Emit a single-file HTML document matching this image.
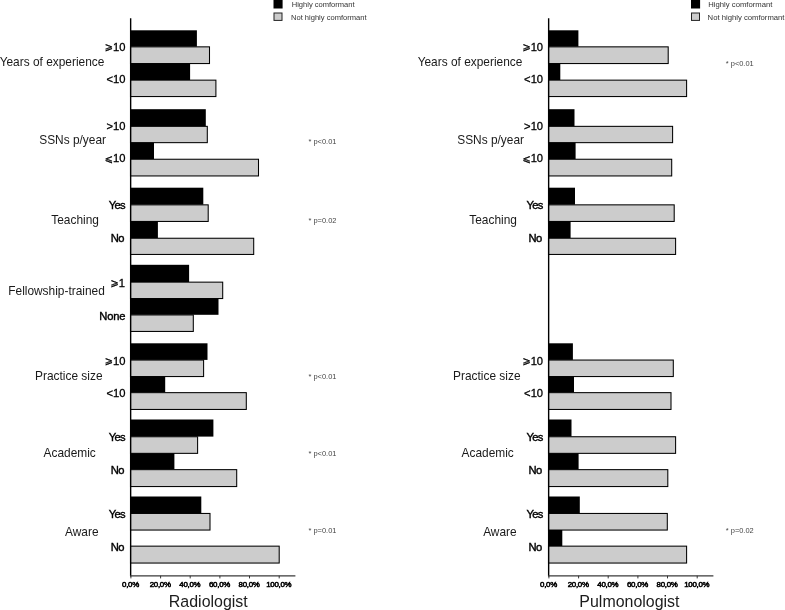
<!DOCTYPE html>
<html><head><meta charset="utf-8"><title>Chart</title>
<style>
html,body{margin:0;padding:0;background:#fff;overflow:hidden}
svg{display:block}
text{font-family:"Liberation Sans","DejaVu Sans",sans-serif;fill:#000}
.tk{font-size:7.9px;stroke:#000;stroke-width:0.55px;letter-spacing:-0.28px}
.cat{font-size:11.9px;fill:#1a1a1a}
.sub{font-size:11.2px;stroke:#000;stroke-width:0.3px}
.subw{letter-spacing:-0.55px;stroke-width:0.4px}
.yes{letter-spacing:-0.75px}
.none{letter-spacing:-0.15px}
.ge{font-size:9.8px;stroke-width:0.3px}
.lg{font-size:7.55px;fill:#333}
.lg2{font-size:7.7px}
.pv{font-size:7.45px;fill:#444}
.ttl{font-size:15.95px;fill:#1c1c1c}
</style></head>
<body>
<svg width="785" height="610" viewBox="0 0 785 610">
<rect x="0" y="0" width="785" height="610" fill="#fff"/>
<rect x="130.6" y="30.3" width="66.3" height="16.4" fill="#000"/>
<rect x="130.5" y="46.85" width="79.0" height="16.70" fill="#ccc" stroke="#000" stroke-width="1.05"/>
<rect x="130.6" y="63.5" width="59.5" height="16.5" fill="#000"/>
<rect x="130.5" y="80.15" width="85.4" height="16.40" fill="#ccc" stroke="#000" stroke-width="1.05"/>
<rect x="130.6" y="109.2" width="75.2" height="17.0" fill="#000"/>
<rect x="130.5" y="126.35" width="76.8" height="16.30" fill="#ccc" stroke="#000" stroke-width="1.05"/>
<rect x="130.6" y="142.6" width="23.4" height="16.5" fill="#000"/>
<rect x="130.5" y="159.25" width="128.0" height="16.70" fill="#ccc" stroke="#000" stroke-width="1.05"/>
<rect x="130.6" y="187.7" width="72.7" height="17.0" fill="#000"/>
<rect x="130.5" y="204.85" width="77.7" height="16.60" fill="#ccc" stroke="#000" stroke-width="1.05"/>
<rect x="130.6" y="221.4" width="27.3" height="16.7" fill="#000"/>
<rect x="130.5" y="238.25" width="123.2" height="16.20" fill="#ccc" stroke="#000" stroke-width="1.05"/>
<rect x="130.6" y="264.8" width="58.5" height="17.2" fill="#000"/>
<rect x="130.5" y="282.15" width="92.2" height="16.40" fill="#ccc" stroke="#000" stroke-width="1.05"/>
<rect x="130.6" y="298.5" width="87.9" height="16.3" fill="#000"/>
<rect x="130.5" y="314.95" width="62.8" height="16.50" fill="#ccc" stroke="#000" stroke-width="1.05"/>
<rect x="130.6" y="343.3" width="76.9" height="16.6" fill="#000"/>
<rect x="130.5" y="360.05" width="73.1" height="16.50" fill="#ccc" stroke="#000" stroke-width="1.05"/>
<rect x="130.6" y="376.5" width="34.6" height="16.0" fill="#000"/>
<rect x="130.5" y="392.65" width="115.8" height="16.80" fill="#ccc" stroke="#000" stroke-width="1.05"/>
<rect x="130.6" y="419.5" width="82.8" height="17.1" fill="#000"/>
<rect x="130.5" y="436.75" width="67.1" height="16.60" fill="#ccc" stroke="#000" stroke-width="1.05"/>
<rect x="130.6" y="453.3" width="43.8" height="16.2" fill="#000"/>
<rect x="130.5" y="469.65" width="106.2" height="16.90" fill="#ccc" stroke="#000" stroke-width="1.05"/>
<rect x="130.6" y="496.5" width="70.7" height="16.8" fill="#000"/>
<rect x="130.5" y="513.45" width="79.5" height="16.60" fill="#ccc" stroke="#000" stroke-width="1.05"/>
<rect x="130.5" y="546.15" width="148.7" height="16.90" fill="#ccc" stroke="#000" stroke-width="1.05"/>
<path d="M130.65 18.2 V576.3" fill="none" stroke="#000" stroke-width="1.4"/>
<path d="M130.0 575.8 H295.4" fill="none" stroke="#3a3a3a" stroke-width="1.3"/>
<path d="M130.9 575.8 v2.6" stroke="#222" stroke-width="0.9"/>
<text x="130.5" y="586.7" text-anchor="middle" class="tk">0,0%</text>
<path d="M160.6 575.8 v2.6" stroke="#222" stroke-width="0.9"/>
<text x="160.2" y="586.7" text-anchor="middle" class="tk">20,0%</text>
<path d="M190.2 575.8 v2.6" stroke="#222" stroke-width="0.9"/>
<text x="189.8" y="586.7" text-anchor="middle" class="tk">40,0%</text>
<path d="M219.9 575.8 v2.6" stroke="#222" stroke-width="0.9"/>
<text x="219.5" y="586.7" text-anchor="middle" class="tk">60,0%</text>
<path d="M249.5 575.8 v2.6" stroke="#222" stroke-width="0.9"/>
<text x="249.1" y="586.7" text-anchor="middle" class="tk">80,0%</text>
<path d="M279.2 575.8 v2.6" stroke="#222" stroke-width="0.9"/>
<text x="278.8" y="586.7" text-anchor="middle" class="tk">100,0%</text>
<rect x="548.6" y="30.3" width="29.8" height="16.4" fill="#000"/>
<rect x="548.5" y="46.85" width="119.7" height="16.70" fill="#ccc" stroke="#000" stroke-width="1.05"/>
<rect x="548.6" y="63.5" width="11.7" height="16.5" fill="#000"/>
<rect x="548.5" y="80.15" width="138.1" height="16.40" fill="#ccc" stroke="#000" stroke-width="1.05"/>
<rect x="548.6" y="109.2" width="25.9" height="17.0" fill="#000"/>
<rect x="548.5" y="126.35" width="124.1" height="16.30" fill="#ccc" stroke="#000" stroke-width="1.05"/>
<rect x="548.6" y="142.6" width="27.0" height="16.5" fill="#000"/>
<rect x="548.5" y="159.25" width="123.2" height="16.70" fill="#ccc" stroke="#000" stroke-width="1.05"/>
<rect x="548.6" y="187.7" width="26.4" height="17.0" fill="#000"/>
<rect x="548.5" y="204.85" width="125.7" height="16.60" fill="#ccc" stroke="#000" stroke-width="1.05"/>
<rect x="548.6" y="221.4" width="22.0" height="16.7" fill="#000"/>
<rect x="548.5" y="238.25" width="127.1" height="16.20" fill="#ccc" stroke="#000" stroke-width="1.05"/>
<rect x="548.6" y="343.3" width="24.3" height="16.6" fill="#000"/>
<rect x="548.5" y="360.05" width="124.8" height="16.50" fill="#ccc" stroke="#000" stroke-width="1.05"/>
<rect x="548.6" y="376.5" width="25.4" height="16.0" fill="#000"/>
<rect x="548.5" y="392.65" width="122.5" height="16.80" fill="#ccc" stroke="#000" stroke-width="1.05"/>
<rect x="548.6" y="419.5" width="22.9" height="17.1" fill="#000"/>
<rect x="548.5" y="436.75" width="127.1" height="16.60" fill="#ccc" stroke="#000" stroke-width="1.05"/>
<rect x="548.6" y="453.3" width="30.0" height="16.2" fill="#000"/>
<rect x="548.5" y="469.65" width="119.3" height="16.90" fill="#ccc" stroke="#000" stroke-width="1.05"/>
<rect x="548.6" y="496.5" width="31.2" height="16.8" fill="#000"/>
<rect x="548.5" y="513.45" width="118.8" height="16.60" fill="#ccc" stroke="#000" stroke-width="1.05"/>
<rect x="548.6" y="530.0" width="13.7" height="16.0" fill="#000"/>
<rect x="548.5" y="546.15" width="138.1" height="16.90" fill="#ccc" stroke="#000" stroke-width="1.05"/>
<path d="M548.65 18.2 V576.3" fill="none" stroke="#000" stroke-width="1.4"/>
<path d="M548.0 575.8 H713.4" fill="none" stroke="#3a3a3a" stroke-width="1.3"/>
<path d="M548.9 575.8 v2.6" stroke="#222" stroke-width="0.9"/>
<text x="548.5" y="586.7" text-anchor="middle" class="tk">0,0%</text>
<path d="M578.6 575.8 v2.6" stroke="#222" stroke-width="0.9"/>
<text x="578.2" y="586.7" text-anchor="middle" class="tk">20,0%</text>
<path d="M608.2 575.8 v2.6" stroke="#222" stroke-width="0.9"/>
<text x="607.8" y="586.7" text-anchor="middle" class="tk">40,0%</text>
<path d="M637.9 575.8 v2.6" stroke="#222" stroke-width="0.9"/>
<text x="637.5" y="586.7" text-anchor="middle" class="tk">60,0%</text>
<path d="M667.5 575.8 v2.6" stroke="#222" stroke-width="0.9"/>
<text x="667.1" y="586.7" text-anchor="middle" class="tk">80,0%</text>
<path d="M697.2 575.8 v2.6" stroke="#222" stroke-width="0.9"/>
<text x="696.8" y="586.7" text-anchor="middle" class="tk">100,0%</text>
<text x="52.0" y="65.8" text-anchor="middle" class="cat">Years of experience</text>
<text x="125.4" y="50.9" text-anchor="end" class="sub"><tspan class="ge" dy="-0.5">⩾</tspan><tspan dy="0.5">10</tspan></text>
<text x="125.4" y="83.4" text-anchor="end" class="sub">&lt;10</text>
<text x="72.6" y="143.9" text-anchor="middle" class="cat">SSNs p/year</text>
<text x="125.4" y="130.1" text-anchor="end" class="sub">&gt;10</text>
<text x="125.4" y="162.3" text-anchor="end" class="sub"><tspan class="ge" dy="-0.5">⩽</tspan><tspan dy="0.5">10</tspan></text>
<text x="75.1" y="223.5" text-anchor="middle" class="cat">Teaching</text>
<text x="124.8" y="209.1" text-anchor="end" class="sub subw yes">Yes</text>
<text x="123.9" y="241.6" text-anchor="end" class="sub subw">No</text>
<text x="56.5" y="294.9" text-anchor="middle" class="cat">Fellowship-trained</text>
<text x="124.9" y="286.8" text-anchor="end" class="sub"><tspan class="ge" dy="-0.5">⩾</tspan><tspan dy="0.5">1</tspan></text>
<text x="125.4" y="319.5" text-anchor="end" class="sub subw none">None</text>
<text x="68.8" y="379.6" text-anchor="middle" class="cat">Practice size</text>
<text x="125.4" y="364.9" text-anchor="end" class="sub"><tspan class="ge" dy="-0.5">⩾</tspan><tspan dy="0.5">10</tspan></text>
<text x="125.4" y="396.8" text-anchor="end" class="sub">&lt;10</text>
<text x="69.7" y="456.6" text-anchor="middle" class="cat">Academic</text>
<text x="124.8" y="441.3" text-anchor="end" class="sub subw yes">Yes</text>
<text x="123.9" y="474.4" text-anchor="end" class="sub subw">No</text>
<text x="81.8" y="535.8" text-anchor="middle" class="cat">Aware</text>
<text x="124.8" y="518.2" text-anchor="end" class="sub subw yes">Yes</text>
<text x="123.9" y="550.9" text-anchor="end" class="sub subw">No</text>
<text x="470.0" y="65.8" text-anchor="middle" class="cat">Years of experience</text>
<text x="543.1" y="50.9" text-anchor="end" class="sub"><tspan class="ge" dy="-0.5">⩾</tspan><tspan dy="0.5">10</tspan></text>
<text x="543.1" y="83.4" text-anchor="end" class="sub">&lt;10</text>
<text x="490.6" y="143.9" text-anchor="middle" class="cat">SSNs p/year</text>
<text x="543.1" y="130.1" text-anchor="end" class="sub">&gt;10</text>
<text x="543.1" y="162.3" text-anchor="end" class="sub"><tspan class="ge" dy="-0.5">⩽</tspan><tspan dy="0.5">10</tspan></text>
<text x="493.1" y="223.5" text-anchor="middle" class="cat">Teaching</text>
<text x="542.5" y="209.1" text-anchor="end" class="sub subw yes">Yes</text>
<text x="541.6" y="241.6" text-anchor="end" class="sub subw">No</text>
<text x="486.8" y="379.6" text-anchor="middle" class="cat">Practice size</text>
<text x="543.1" y="364.9" text-anchor="end" class="sub"><tspan class="ge" dy="-0.5">⩾</tspan><tspan dy="0.5">10</tspan></text>
<text x="543.1" y="396.8" text-anchor="end" class="sub">&lt;10</text>
<text x="487.7" y="456.6" text-anchor="middle" class="cat">Academic</text>
<text x="542.5" y="441.3" text-anchor="end" class="sub subw yes">Yes</text>
<text x="541.6" y="474.4" text-anchor="end" class="sub subw">No</text>
<text x="499.9" y="535.8" text-anchor="middle" class="cat">Aware</text>
<text x="542.5" y="518.2" text-anchor="end" class="sub subw yes">Yes</text>
<text x="541.6" y="550.9" text-anchor="end" class="sub subw">No</text>
<rect x="273.5" y="-1" width="9.1" height="9.5" fill="#000"/>
<rect x="274.0" y="13" width="8" height="7.4" fill="#ccc" stroke="#222" stroke-width="1"/>
<text x="291.7" y="7.3" class="lg">Highly comformant</text>
<text x="291.0" y="19.6" class="lg">Not highly comformant</text>
<rect x="691.0" y="-1" width="9.1" height="9.5" fill="#000"/>
<rect x="691.5" y="13" width="8" height="7.4" fill="#ccc" stroke="#222" stroke-width="1"/>
<text x="708.3" y="7.3" class="lg lg2">Highly comformant</text>
<text x="707.6" y="19.6" class="lg lg2">Not highly comformant</text>
<text x="308.5" y="143.9" class="pv">* p&lt;0.01</text>
<text x="308.5" y="222.8" class="pv">* p=0.02</text>
<text x="308.5" y="378.7" class="pv">* p&lt;0.01</text>
<text x="308.5" y="455.7" class="pv">* p&lt;0.01</text>
<text x="308.5" y="532.6" class="pv">* p=0.01</text>
<text x="725.8" y="65.8" class="pv">* p&lt;0.01</text>
<text x="725.8" y="532.8" class="pv">* p=0.02</text>
<text x="208.3" y="606.8" text-anchor="middle" class="ttl">Radiologist</text>
<text x="629.4" y="606.8" text-anchor="middle" class="ttl">Pulmonologist</text>
</svg>
</body></html>
